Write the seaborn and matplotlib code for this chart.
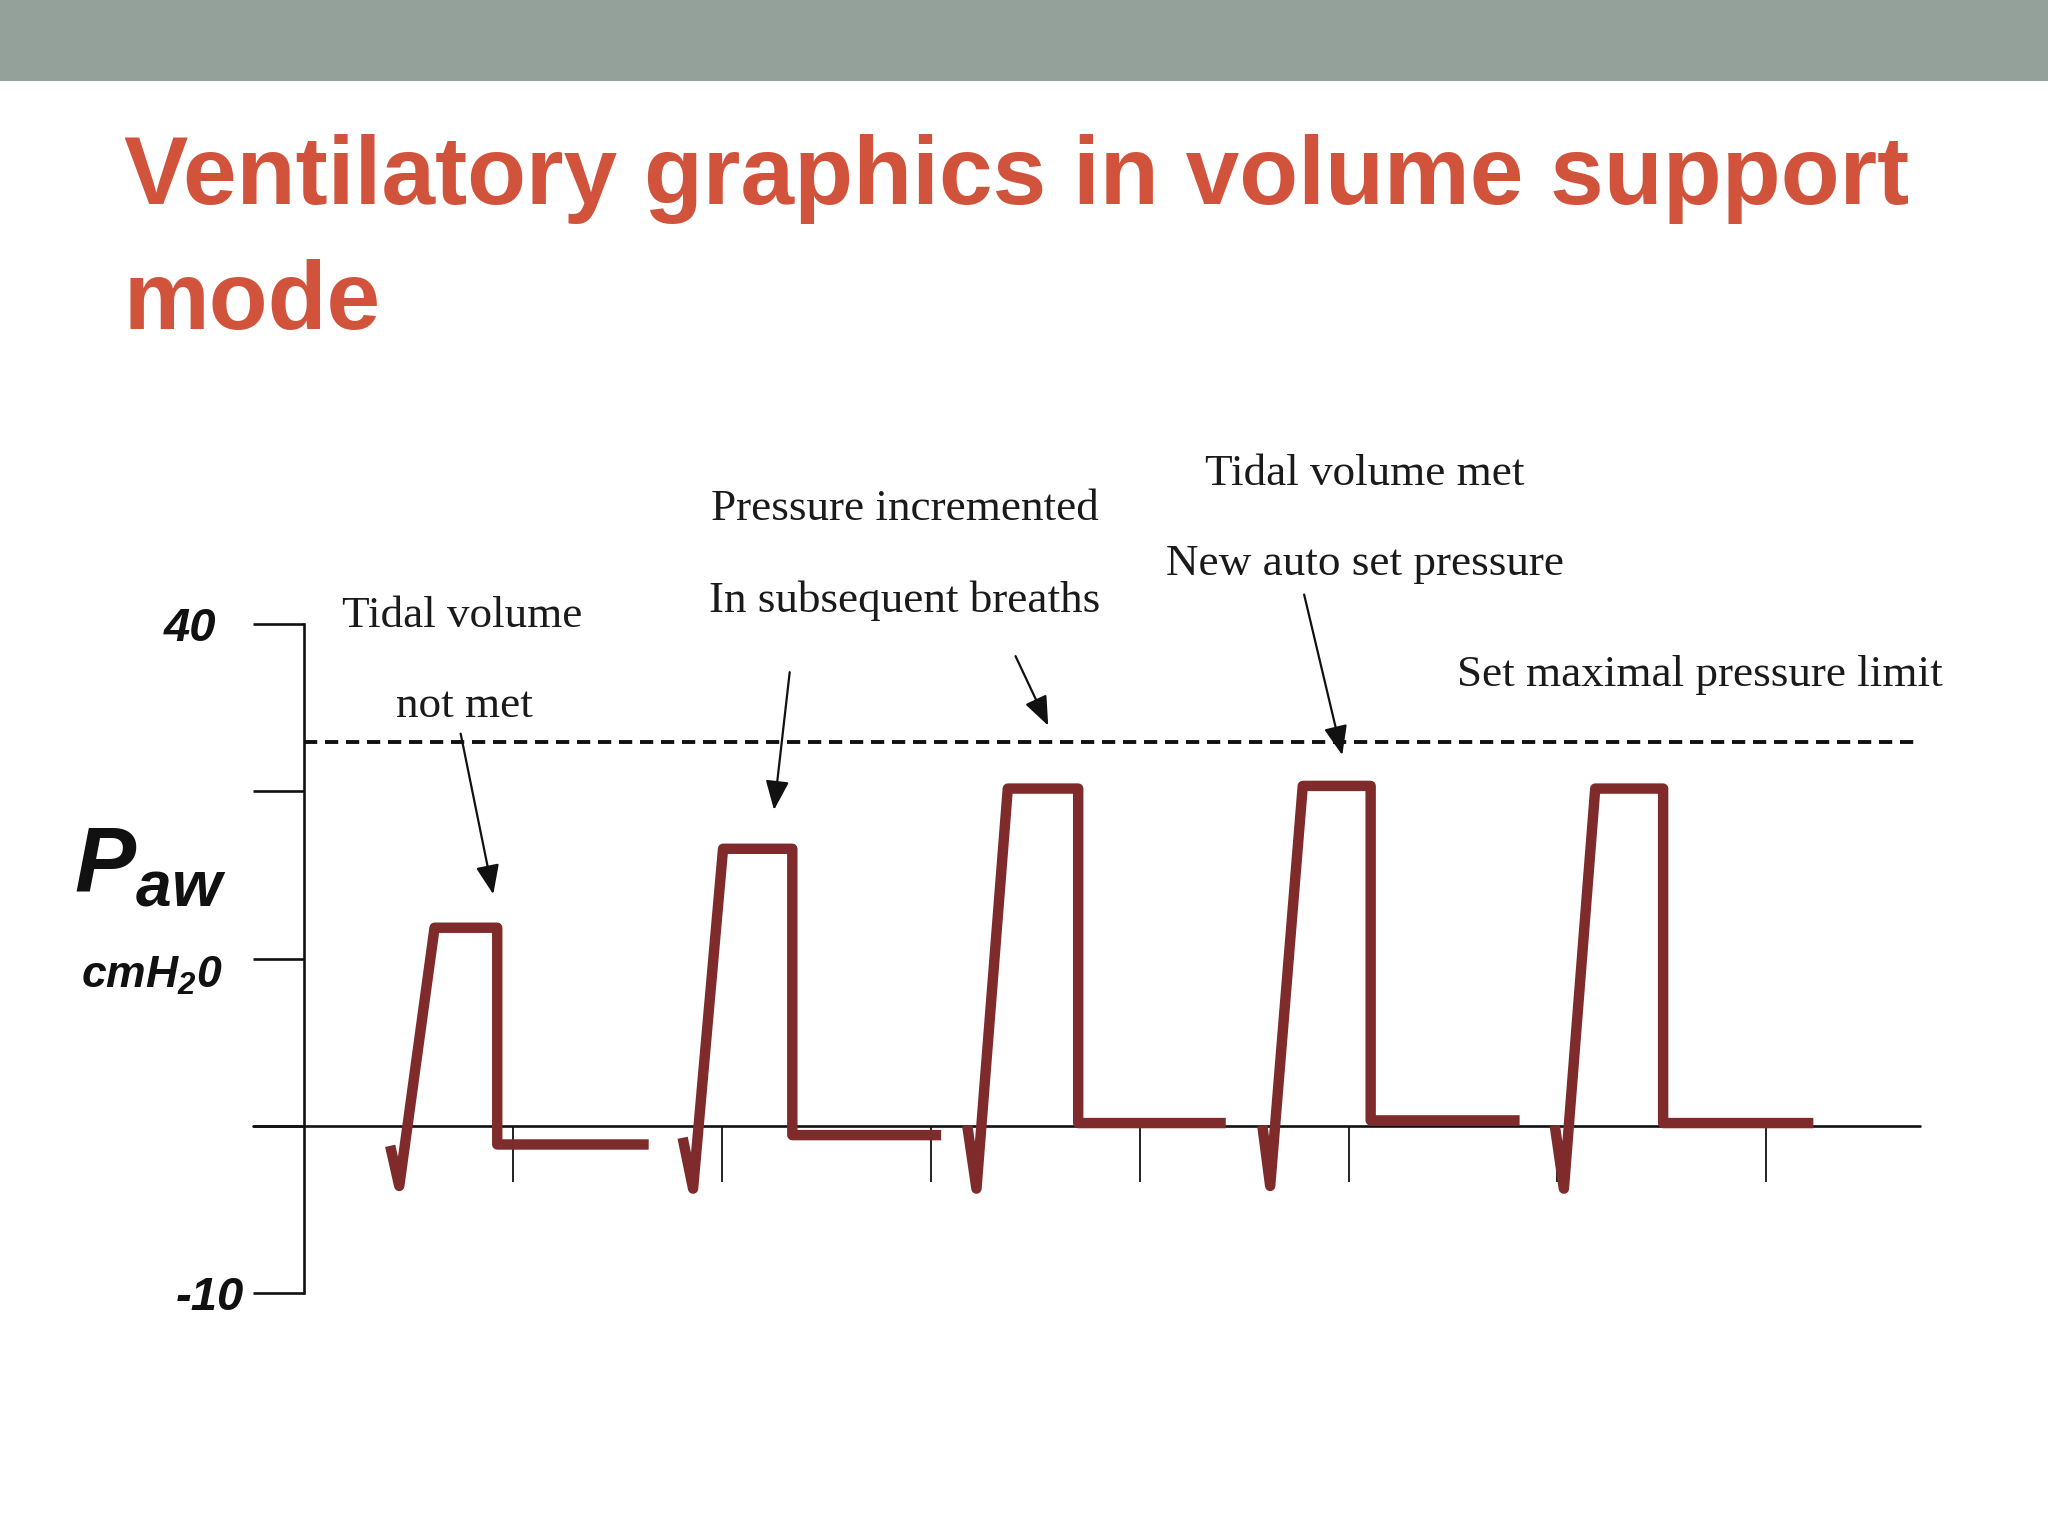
import numpy as np
import pandas as pd
import matplotlib
matplotlib.use("Agg")
import matplotlib.pyplot as plt
from matplotlib.patches import Rectangle
import seaborn as sns

# ---------------- data ----------------
breath_ids = [1, 2, 3, 4, 5]
breath_times = [
    [0.4125, 0.456, 0.625, 0.925, 0.925, 1.65],
    [1.8125, 1.8625, 2.006, 2.3375, 2.3375, 3.05],
    [3.175, 3.219, 3.369, 3.706, 3.706, 4.4125],
    [4.5875, 4.625, 4.781, 5.106, 5.106, 5.819],
    [5.9875, 6.031, 6.181, 6.506, 6.506, 7.225],
]
breath_pressures = [
    [1.0, -2.0, 17.3, 17.3, 1.1, 1.1],
    [1.6, -2.2, 23.2, 23.2, 1.8, 1.8],
    [2.5, -2.2, 27.7, 27.7, 2.7, 2.7],
    [2.5, -2.0, 27.9, 27.9, 2.9, 2.9],
    [2.5, -2.2, 27.7, 27.7, 2.7, 2.7],
]
baseline_p = 2.5
max_pressure_limit = 31.2
time_ticks = [1, 2, 3, 4, 5, 6, 7]
y_ticks = [-10, 2.5, 15, 27.5, 40]
y_tick_labels = ["-10", "", "", "", "40"]

title_text = "Ventilatory graphics in volume support\nmode"
annotations = [
    # text, x, y
    ("Tidal volume", 0.756, 40.6),
    ("not met", 0.769, 33.85),
    ("Pressure incremented", 2.875, 48.6),
    ("In subsequent breaths", 2.875, 41.76),
    ("Tidal volume met", 5.08, 51.2),
    ("New auto set pressure", 5.08, 44.5),
    ("Set maximal pressure limit", 6.68, 36.2),
]
arrow_starts = [(0.75, 31.8), (2.325, 36.4), (3.406, 37.6), (4.7875, 42.2)]
arrow_ends = [(0.906, 19.8), (2.25, 26.1), (3.5625, 32.4), (4.97, 30.2)]

rows = []
for b, ts, ps in zip(breath_ids, breath_times, breath_pressures):
    for i, (t, p) in enumerate(zip(ts, ps)):
        rows.append({"breath": b, "order": i, "t": t, "p": p})
df = pd.DataFrame(rows)

# ---------------- style ----------------
sns.set_theme(style="white")
plt.rcParams["font.family"] = ["Liberation Sans", "DejaVu Sans"]
plt.rcParams["mathtext.default"] = "regular"

W, H = 2048, 1536
fig = plt.figure(figsize=(W / 100, H / 100), dpi=100)
fig.patch.set_facecolor("white")

# header band
fig.add_artist(Rectangle((0, 1 - 81 / H), 1, 81 / H, transform=fig.transFigure,
                         facecolor="#93A19A", edgecolor="none"))

# title
fig.text(124 / W, 1 - 134 / H, title_text, color="#D2533C", fontsize=69.5,
         fontweight="bold", family=["Liberation Sans", "DejaVu Sans"],
         ha="left", va="top", linespacing=1.5)

# main axes
left_px, right_px = 304, 1923
top_px, bot_px = 624, 1293
ax = fig.add_axes([left_px / W, 1 - bot_px / H, (right_px - left_px) / W, (bot_px - top_px) / H])
ax.set_facecolor("none")
ax.set_xlim(0, 7.75)
ax.set_ylim(-10, 40)

wave_color = "#7F2B2B"
sns.lineplot(data=df, x="t", y="p", units="breath", estimator=None, sort=False,
             color=wave_color, lw=7.5, ax=ax, zorder=4,
             solid_joinstyle="round", solid_capstyle="butt")

# baseline and time ticks
ax.plot([-0.244, 7.7375], [baseline_p, baseline_p], color="#111111", lw=1.9,
        clip_on=False, zorder=2)
ax.vlines(time_ticks, -1.7, baseline_p, color="#111111", lw=1.3, zorder=2)

# dashed max pressure line
ax.plot([0, 7.7375], [max_pressure_limit, max_pressure_limit], color="#111111",
        lw=2.8, dashes=(3.4, 2.0), zorder=3)

# axis styling
for s in ["top", "right", "bottom"]:
    ax.spines[s].set_visible(False)
ax.spines["left"].set_color("#111111")
ax.spines["left"].set_linewidth(1.9)
ax.set_xticks([])
ax.set_yticks(y_ticks)
ax.set_yticklabels(y_tick_labels)
ax.tick_params(axis="y", direction="out", length=37, width=1.9, color="#111111",
               left=True)
for lab in ax.get_yticklabels():
    lab.set_fontsize(34)
    lab.set_fontweight("bold")
    lab.set_fontstyle("italic")
    lab.set_family(["Liberation Sans", "DejaVu Sans"])
    lab.set_color("#111111")
yt = ax.yaxis.get_major_ticks()
yt[0].set_pad(6)
yt[-1].set_pad(26)
ax.set_xlabel("")
ax.set_ylabel("")

# Paw / cmH2O label
fig.text(74 / W, 1 - 893 / H, "P$_{aw}$", fontsize=66, fontweight="bold",
         fontstyle="italic", family=["Liberation Sans", "DejaVu Sans"],
         color="#111111", ha="left", va="baseline")
fig.text(81 / W, 1 - 988 / H, "cmH$_{2}$0", fontsize=32, fontweight="bold",
         fontstyle="italic", family=["Liberation Sans", "DejaVu Sans"],
         color="#111111", ha="left", va="baseline")

# annotations
for txt, x, y in annotations:
    ax.text(x, y, txt, fontsize=32.5, family=["Liberation Serif", "DejaVu Serif"],
            color="#1a1a1a", ha="center", va="center")
for (x0, y0), (x1, y1) in zip(arrow_starts, arrow_ends):
    ax.annotate("", xy=(x1, y1), xytext=(x0, y0), annotation_clip=False,
                arrowprops=dict(arrowstyle="-|>,head_length=0.5,head_width=0.2",
                                lw=1.6, color="#111111", shrinkA=0, shrinkB=0,
                                mutation_scale=36))

fig.savefig("out.png", dpi=100)
